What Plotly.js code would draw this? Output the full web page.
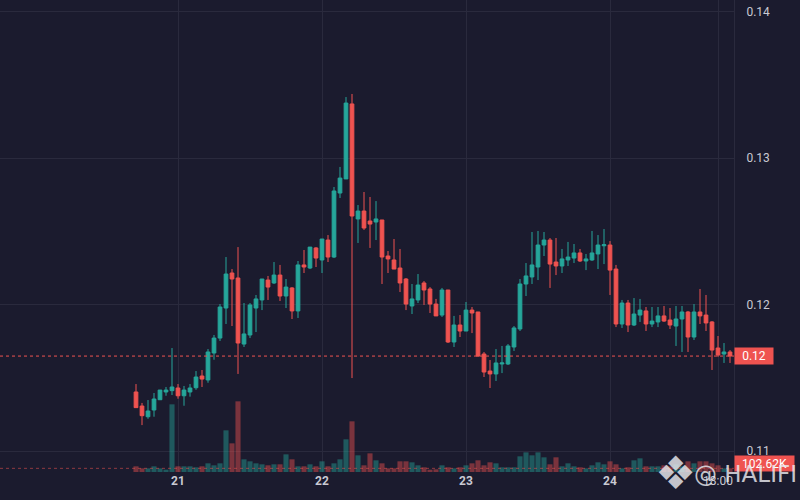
<!DOCTYPE html>
<html><head><meta charset="utf-8">
<script src="https://cdn.plot.ly/plotly-3.0.1.min.js"></script>
<style>html,body{margin:0;padding:0;background:#1b1b2e;}#chart{width:800px;height:500px;}</style>
</head><body><div id="chart"></div>
<script>
// hourly candles, first at 2024-03-20 17:00 UTC
const startUTC = Date.UTC(2024, 2, 20, 17);
const openP = [0.11403,0.11307,0.11234,0.11280,0.11350,0.11403,0.11412,0.11430,0.11377,0.11403,
0.11432,0.11512,0.11485,0.11669,0.11771,0.11976,0.12215,0.12181,0.11730,0.11792,
0.11976,0.12031,0.12167,0.12147,0.12201,0.12058,0.12113,0.11956,0.12270,0.12249,
0.12386,0.12304,0.12440,0.12324,0.12761,0.12857,0.13369,0.12584,0.12638,0.12570,
0.12563,0.12577,0.12331,0.12304,0.12249,0.12174,0.11990,0.12031,0.12147,0.12106,
0.12003,0.11928,0.12099,0.11744,0.11860,0.11819,0.11962,0.11949,0.11662,0.11546,
0.11526,0.11594,0.11594,0.11710,0.11833,0.12140,0.12188,0.12256,0.12406,0.12440,
0.12290,0.12263,0.12304,0.12317,0.12352,0.12297,0.12304,0.12345,0.12401,0.12406,
0.12242,0.11867,0.12010,0.11860,0.11928,0.11956,0.11867,0.11881,0.11922,0.11894,
0.11853,0.11901,0.11949,0.11778,0.11949,0.11928,0.11881,0.11703,0.11662,0.11676];
const highP = [0.11457,0.11328,0.11348,0.11396,0.11416,0.11437,0.11703,0.11457,0.11444,0.11457,
0.11546,0.11553,0.11696,0.11792,0.12003,0.12324,0.12242,0.12392,0.12010,0.12010,
0.12065,0.12174,0.12195,0.12290,0.12270,0.12174,0.12119,0.12297,0.12372,0.12392,
0.12392,0.12447,0.12474,0.12802,0.12939,0.13416,0.13437,0.12679,0.12768,0.12734,
0.12706,0.12577,0.12365,0.12447,0.12379,0.12181,0.12140,0.12208,0.12160,0.12119,
0.12038,0.12113,0.12099,0.11922,0.11928,0.12017,0.11983,0.11949,0.11676,0.11621,
0.11696,0.11717,0.11730,0.11853,0.12174,0.12283,0.12495,0.12502,0.12495,0.12454,
0.12454,0.12379,0.12427,0.12413,0.12379,0.12345,0.12502,0.12474,0.12515,0.12433,
0.12270,0.12031,0.12031,0.12044,0.12038,0.11983,0.11983,0.11983,0.11990,0.11976,
0.11990,0.11990,0.11956,0.12003,0.12106,0.12065,0.11887,0.11785,0.11737,0.11689];
const lowP = [0.11294,0.11177,0.11220,0.11234,0.11350,0.11377,0.11382,0.11357,0.11309,0.11371,
0.11418,0.11437,0.11466,0.11623,0.11751,0.11867,0.11853,0.11526,0.11710,0.11771,
0.11812,0.11962,0.12031,0.12140,0.12024,0.11976,0.11901,0.11908,0.12215,0.12242,
0.12256,0.12215,0.12290,0.12317,0.12727,0.12857,0.11498,0.12420,0.12509,0.12386,
0.12440,0.12140,0.12215,0.12242,0.12085,0.11962,0.11935,0.12010,0.11997,0.11942,
0.11922,0.11915,0.11737,0.11710,0.11778,0.11819,0.11805,0.11642,0.11505,0.11430,
0.11478,0.11532,0.11587,0.11683,0.11819,0.12058,0.12140,0.12167,0.12331,0.12113,
0.12201,0.12215,0.12263,0.12283,0.12290,0.12235,0.12297,0.12242,0.12276,0.12065,
0.11846,0.11840,0.11812,0.11853,0.11881,0.11819,0.11846,0.11846,0.11881,0.11833,
0.11717,0.11676,0.11676,0.11758,0.11867,0.11819,0.11553,0.11642,0.11601,0.11601];
const closeP = [0.11296,0.11241,0.11273,0.11355,0.11416,0.11416,0.11437,0.11377,0.11416,0.11430,
0.11505,0.11491,0.11676,0.11771,0.11983,0.12208,0.12174,0.11737,0.11799,0.11997,
0.12038,0.12174,0.12119,0.12201,0.12058,0.12119,0.11956,0.12270,0.12256,0.12392,
0.12317,0.12447,0.12324,0.12775,0.12863,0.13375,0.12604,0.12638,0.12522,0.12549,
0.12584,0.12324,0.12311,0.12242,0.12147,0.12003,0.12038,0.12133,0.12099,0.12003,
0.11922,0.12099,0.11744,0.11860,0.11819,0.11962,0.11942,0.11648,0.11539,0.11526,
0.11601,0.11601,0.11717,0.11840,0.12140,0.12195,0.12270,0.12406,0.12440,0.12276,
0.12263,0.12311,0.12324,0.12352,0.12297,0.12311,0.12352,0.12406,0.12408,0.12235,
0.11867,0.12010,0.11860,0.11935,0.11962,0.11867,0.11887,0.11922,0.11887,0.11860,
0.11901,0.11949,0.11778,0.11949,0.11922,0.11874,0.11689,0.11655,0.11676,0.11648];
const volumeK = [159,103,103,159,103,65,1894,159,159,159,
131,159,243,187,243,1166,802,1978,355,299,
243,215,187,215,215,494,355,159,159,215,
159,299,159,243,355,914,1418,467,187,522,
327,243,103,103,299,299,271,187,131,65,
75,187,131,103,131,187,243,327,187,271,
243,131,131,131,439,550,467,550,411,215,
411,159,243,159,131,103,187,271,215,299,
215,103,131,327,383,159,159,159,187,159,
215,159,299,243,299,299,243,187,103,102.62];
const tickVals = ['2024-03-21','2024-03-22','2024-03-23','2024-03-24','2024-03-24 18:00'];
const tickText = ['<b>21</b>','<b>22</b>','<b>23</b>','<b>24</b>','18:00'];
const priceTicks = [0.11,0.12,0.13,0.14];

const UP = '#26a69a', DOWN = '#ef5350';
const times = openP.map((_, i) => new Date(startUTC + i*3600000).toISOString().slice(0,19).replace('T',' '));
const volColors = closeP.map((c, i) => c >= openP[i] ? 'rgba(38,166,154,0.45)' : 'rgba(239,83,80,0.45)');
const lastClose = closeP[closeP.length-1];
const lastVol = volumeK[volumeK.length-1];

const traces = [
  {type:'bar', x:times, y:volumeK, yaxis:'y2', marker:{color:volColors, line:{width:0}}, hoverinfo:'skip', showlegend:false},
  {type:'candlestick', x:times, open:openP, high:highP, low:lowP, close:closeP,
   increasing:{line:{color:UP, width:1}, fillcolor:UP},
   decreasing:{line:{color:DOWN, width:1}, fillcolor:DOWN},
   whiskerwidth:0, hoverinfo:'skip', showlegend:false}
];

const wmColor = 'rgba(235,235,240,0.82)';
const layout = {
  width:800, height:500,
  paper_bgcolor:'#1b1b2e', plot_bgcolor:'#1b1b2e',
  margin:{l:0, r:66, t:0, b:28, autoexpand:false},
  font:{family:'Roboto, "Noto Sans", sans-serif', color:'#c9c9d3', size:12},
  showlegend:false, bargap:0.15, boxgap:0.12,
  xaxis:{type:'date', range:['2024-03-19 18:20','2024-03-24 20:40'],
    rangeslider:{visible:false}, tickvals:tickVals, ticktext:tickText,
    showgrid:true, gridcolor:'#2a2a3d', gridwidth:1, zeroline:false,
    ticks:'', tickfont:{size:12, color:'#c9c9d3'}, showline:false, fixedrange:true},
  yaxis:{range:[0.108567,0.140785], side:'right', tickvals:priceTicks,
    ticktext:priceTicks.map(v=>v.toFixed(2)),
    showgrid:true, gridcolor:'#2a2a3d', zeroline:false,
    ticks:'outside', ticklen:9, tickcolor:'rgba(0,0,0,0)',
    showline:true, linecolor:'#2a2a3d', mirror:false, automargin:false,
    tickfont:{size:12, color:'#c9c9d3'}},
  yaxis2:{overlaying:'y', range:[0,13211], visible:false, showgrid:false, zeroline:false},
  shapes:[
    {type:'line', xref:'paper', x0:0, x1:1, yref:'y', y0:lastClose, y1:lastClose,
     line:{color:DOWN, width:1, dash:'dot'}},
    {type:'line', xref:'paper', x0:0, x1:1, yref:'y2', y0:lastVol, y1:lastVol,
     line:{color:'rgba(239,83,80,0.55)', width:1, dash:'dot'}}
  ],
  annotations:[
    {xref:'paper', x:1, xanchor:'left', yref:'y', y:lastClose, yanchor:'middle',
     text:lastClose.toFixed(2), showarrow:false, bgcolor:DOWN, font:{color:'#ffffff', size:12},
     width:36, height:14, borderpad:1, align:'center'},
    {xref:'paper', x:1, xanchor:'left', yref:'y2', y:0, yanchor:'bottom',
     text:lastVol.toFixed(2)+'K', showarrow:false, bgcolor:DOWN, font:{color:'#ffffff', size:12},
     width:57, height:13, borderpad:1, align:'center'},
    {xref:'paper', x:675/734, xanchor:'center', yref:'paper', y:-0.002, yanchor:'middle',
     text:'❖', showarrow:false, font:{color:wmColor, size:46, family:'"DejaVu Sans", sans-serif'}},
    {xref:'paper', x:692/734, xanchor:'left', yref:'paper', y:-0.004, yanchor:'middle',
     text:'@ HALIFI', showarrow:false, font:{color:wmColor, size:23, family:'"DejaVu Sans", sans-serif'}}
  ]
};
Plotly.newPlot('chart', traces, layout, {displayModeBar:false, staticPlot:true});
</script>
</body></html>
